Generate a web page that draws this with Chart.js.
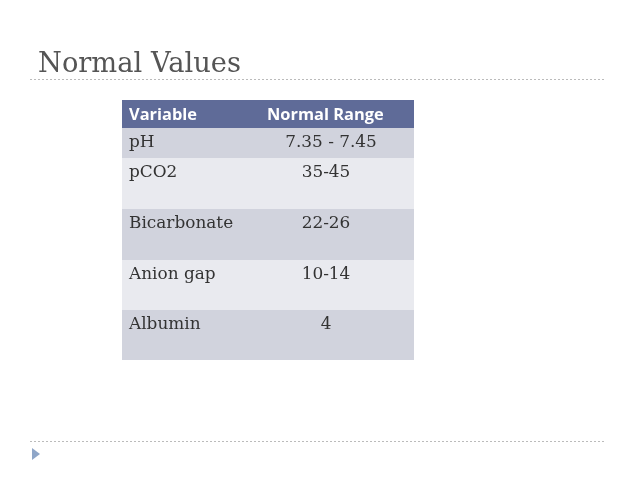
<!DOCTYPE html>
<html>
<head>
<meta charset="utf-8">
<script src="https://cdn.jsdelivr.net/npm/chart.js@4"></script>
<style>
  body { margin: 0; background: #fff; }
  #wrap { width: 638px; height: 478px; }
</style>
</head>
<body>
<div id="wrap"><canvas id="myChart" width="638" height="478"></canvas></div>
<script>
// Datos de la tabla
const title = 'Normal Values';
const headers = ['Variable', 'Normal Range'];
const variables = ['pH', 'pCO2', 'Bicarbonate', 'Anion gap', 'Albumin'];
const ranges = ['7.35 - 7.45', '35-45', '22-26', '10-14', '4'];

// Ajusta el tamaño de la fuente para que el texto ocupe un ancho dado
function fitFont(ctx, text, width, style, family) {
  let size = 30;
  ctx.font = style + ' ' + size + 'px ' + family;
  size = size * width / ctx.measureText(text).width;
  return style + ' ' + size.toFixed(1) + 'px ' + family;
}

const tablePlugin = {
  id: 'tabla',
  afterDraw(chart) {
    const ctx = chart.ctx;
    ctx.save();
    // titulo
    ctx.fillStyle = '#555';
    ctx.font = fitFont(ctx, title, 203, '', '"DejaVu Serif"');
    ctx.textBaseline = 'alphabetic';
    ctx.fillText(title, 38, 72);
    // lineas punteadas
    ctx.strokeStyle = '#bbb';
    ctx.lineWidth = 1;
    ctx.setLineDash([2, 2]);
    [79.5, 441.5].forEach(y => {
      ctx.beginPath(); ctx.moveTo(30, y); ctx.lineTo(606, y); ctx.stroke();
    });
    ctx.setLineDash([]);
    // triangulo
    ctx.fillStyle = '#8fa6c8';
    ctx.beginPath(); ctx.moveTo(32, 448); ctx.lineTo(40, 454); ctx.lineTo(32, 460); ctx.closePath(); ctx.fill();

    // tabla
    const x0 = 122, x1 = 414;
    const edges = [100, 128, 158, 209, 260, 310, 360];
    ctx.fillStyle = '#5f6b98';
    ctx.fillRect(x0, edges[0], x1 - x0, edges[1] - edges[0]);
    ctx.fillStyle = '#fff';
    ctx.font = fitFont(ctx, headers[0], 68, 'bold', '"Open Sans"');
    ctx.textBaseline = 'middle';
    ctx.fillText(headers[0], 129, 115);
    ctx.fillText(headers[1], 267, 115);
    const bodyFont = fitFont(ctx, 'Bicarbonate', 104, '', '"DejaVu Serif"');
    variables.forEach((v, i) => {
      const top = edges[i + 1], bot = edges[i + 2];
      ctx.fillStyle = i % 2 === 0 ? '#d1d3dd' : '#e9eaef';
      ctx.fillRect(x0, top, x1 - x0, bot - top);
      ctx.fillStyle = '#333';
      ctx.font = bodyFont;
      ctx.textAlign = 'left';
      ctx.fillText(v, 129, top + 15);
      ctx.textAlign = 'center';
      ctx.fillText(ranges[i], i === 0 ? 331 : 326, top + 15);
    });
    ctx.restore();
  }
};

new Chart(document.getElementById('myChart').getContext('2d'), {
  type: 'bar',
  data: { labels: variables, datasets: [{ data: [] }] },
  options: {
    responsive: false,
    animation: false,
    plugins: { legend: { display: false }, tooltip: { enabled: false } },
    scales: { x: { display: false }, y: { display: false } }
  },
  plugins: [tablePlugin]
});
</script>
</body>
</html>
